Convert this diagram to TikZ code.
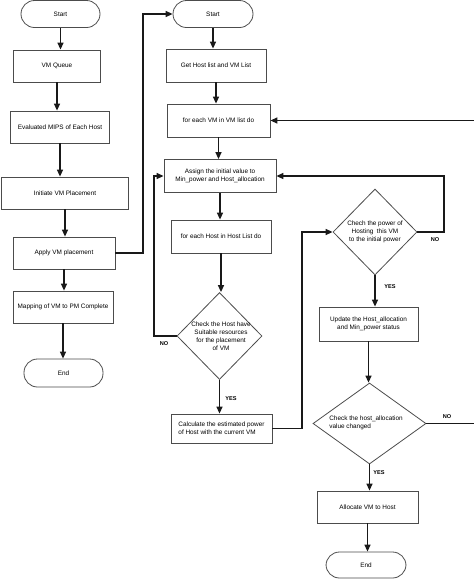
\documentclass[tikz,border=0pt]{standalone}
\usepackage{fontspec}
\setmainfont{Liberation Sans}
\usetikzlibrary{shapes.geometric,arrows.meta,calc}
\tikzset{
  box/.style={draw=black!70, line width=0.8pt, fill=white, inner sep=1pt, align=center, font=\fontsize{6.4}{8}\selectfont},
  term/.style={box, rounded corners=13.5pt},
  dia/.style={draw=black!70, line width=0.8pt, shape=diamond, inner sep=0pt},
  txt/.style={inner sep=0pt, align=center, font=\fontsize{6.4}{8}\selectfont},
  arr/.style={draw=black!90, line width=1.3pt, -{Triangle[length=7pt,width=6pt]}},
  ln/.style={draw=black!90, line width=1.3pt},
  lab/.style={inner sep=0pt, font=\fontsize{5.6}{7}\selectfont\bfseries}
}
\begin{document}
\begin{tikzpicture}[x=1pt,y=-1pt]
\useasboundingbox (0,0) rectangle (474,579);
% left column
\node[term, minimum width=79pt, minimum height=27pt] (s1) at (60.5,14) {Start};
\node[box, minimum width=87pt, minimum height=32pt] (q) at (57,66) {VM Queue};
\node[box, minimum width=99pt, minimum height=32pt] (ev) at (60,127) {Evaluated MIPS of Each Host};
\node[box, minimum width=127pt, minimum height=32pt] (init) at (65,193) {Initiate VM Placement};
\node[box, minimum width=102pt, minimum height=32pt] (apply) at (64,253) {Apply VM placement};
\node[box, minimum width=100pt, minimum height=32pt] (map) at (63,307) {Mapping of VM to PM Complete};
\node[term, minimum width=79pt, minimum height=28pt] (e1) at (63.5,373) {End};
% right column
\node[term, minimum width=80pt, minimum height=27pt] (s2) at (213,14) {Start};
\node[box, minimum width=100pt, minimum height=33pt] (get) at (216,65.5) {Get Host list and VM List};
\node[box, minimum width=103pt, minimum height=33pt] (fvm) at (218.5,120.5) {for each VM in VM list do};
\node[box, minimum width=112pt, minimum height=33pt] (asg) at (220,176) {Assign the initial value to\\Min\_power and Host\_allocation};
\node[box, minimum width=100pt, minimum height=33pt] (fh) at (221,236.5) {for each Host in Host List do};
\node[dia, minimum width=85pt, minimum height=87pt] (d1) at (219.5,336) {};
\node[txt] (d1t) at (221,336) {Check the Host have\\Suitable resources\\for the placement\\of VM};
\node[box, minimum width=101pt, minimum height=29pt, align=left] (calc) at (221.5,428.5) {Calculate the estimated power\\of Host with the current VM};
\node[dia, minimum width=84pt, minimum height=86pt] (d2) at (375,232) {};
\node[txt] (d2t) at (375,232) {Chech the power of\\Hosting\ \ this VM\\to the initial power};
\node[box, minimum width=99pt, minimum height=34pt] (upd) at (368.5,324) {Update the Host\_allocation\\and Min\_power status};
\node[dia, minimum width=113pt, minimum height=81pt] (d3) at (369.5,423.5) {};
\node[txt, align=left] (d3t) at (366,423) {Check the host\_allocation\\value changed};
\node[box, minimum width=101pt, minimum height=32pt] (alloc) at (367.5,507) {Allocate VM to Host};
\node[term, minimum width=80pt, minimum height=26pt] (e2) at (366,565) {End};
% helper coordinates
\coordinate (c1) at (143,0);
\coordinate (c2) at (154,0);
\coordinate (c3) at (302,0);
\coordinate (c4) at (444,0);
\coordinate (r1) at (474,120.5);
\coordinate (r2) at (474,421);
% left connectors
\draw[arr] (s1.south) -- (s1.south |- q.north);
\draw[arr] (q.south) -- (q.south |- ev.north);
\draw[arr] (ev.south) -- (ev.south |- init.north);
\draw[arr] (init.south) -- (init.south |- apply.north);
\draw[arr] (apply.south) -- (apply.south |- map.north);
\draw[arr] (map.south) -- (map.south |- e1.north);
\draw[arr] (apply.east) -- (apply.east -| c1) |- (s2.west);
% right connectors
\draw[arr] (s2.south) -- (s2.south |- get.north);
\draw[arr] (get.south) -- (get.south |- fvm.north);
\draw[arr] (fvm.south) -- (fvm.south |- asg.north);
\draw[arr] (asg.south) -- (asg.south |- fh.north);
\draw[arr] (fh.south) -- (fh.south |- d1.north);
\draw[arr] (d1.south) -- (d1.south |- calc.north);
\draw[arr] (d1.west) -- (d1.west -| c2) |- (asg.west);
\draw[arr] (calc.east) -- (calc.east -| c3) |- (d2.west);
\draw[arr] (d2.east) -- (d2.east -| c4) |- (asg.east);
\draw[arr] (d2.south) -- (d2.south |- upd.north);
\draw[arr] (upd.south) -- (upd.south |- d3.north);
\draw[arr] (d3.south) -- (d3.south |- alloc.north);
\draw[arr] (alloc.south) -- (alloc.south |- e2.north);
\draw[arr] (r1) -- (fvm.east);
\draw[ln] (d3.east) -- (d3.east -| r2);
% labels
\node[lab] (no1) at (164,344) {NO};
\node[lab] (yes1) at (231,399) {YES};
\node[lab] (no2) at (435,240) {NO};
\node[lab] (yes2) at (390,287) {YES};
\node[lab] (no3) at (447,417) {NO};
\node[lab] (yes3) at (379,473) {YES};
\end{tikzpicture}
\end{document}
